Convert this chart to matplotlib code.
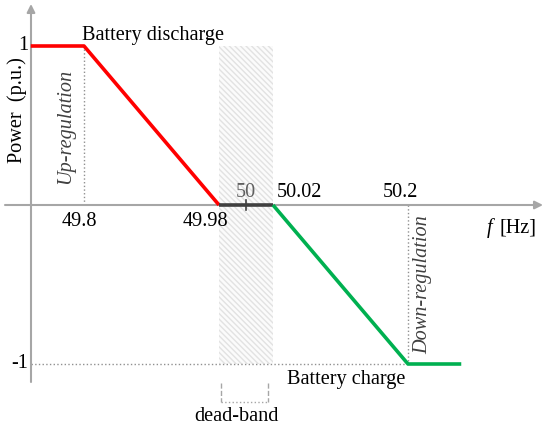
import numpy as np
import matplotlib.pyplot as plt

plt.rcParams['font.family'] = ['Liberation Serif', 'DejaVu Serif']

# droop curve (frequency in Hz, power in p.u.)
f_discharge = [49.729, 49.8, 49.98]
p_discharge = [1, 1, 0]
f_dead = [49.98, 50.02]
p_dead = [0, 0]
f_charge = [50.02, 50.2, 50.271]
p_charge = [0, -1, -1]

x_ticks = [49.8, 49.98, 50.02, 50.2]
x_labels = ['49.8', '49.98', '50.02', '50.2']
dead_band = (49.98, 50.02)
f_nominal = 50

# schematic axis: dead-band is stretched compared to the droop parts
knots_f = np.array([49.0, 49.8, 49.98, 50.02, 50.2, 51.0])
knots_x = np.array([84 - 0.8 / 0.18 * 135, 84, 219, 273, 408, 408 + 0.8 / 0.18 * 135])


def fwd(f):
    return np.interp(f, knots_f, knots_x)


def inv(x):
    return np.interp(x, knots_x, knots_f)


def py(pix):
    # pixel row -> power value
    return (205 - pix) / 159


fig = plt.figure(figsize=(5.5, 4.29), dpi=100)
ax = fig.add_axes([0, 0, 1, 1])
ax.set_xscale('function', functions=(fwd, inv))
ax.set_xlim(inv(0), inv(550))
ax.set_ylim(py(429), py(0))
ax.axis('off')

gray = '#a6a6a6'
# axes arrows
ax.annotate('', xy=(inv(543), 0), xytext=(inv(5), 0),
            arrowprops=dict(arrowstyle='-|>', color=gray, lw=1.5, mutation_scale=12,
                            shrinkA=0, shrinkB=0))
ax.annotate('', xy=(inv(31), py(4)), xytext=(inv(31), py(382)),
            arrowprops=dict(arrowstyle='-|>', color=gray, lw=1.5, mutation_scale=12,
                            shrinkA=0, shrinkB=0))

# dead-band shading
plt.rcParams['hatch.linewidth'] = 1.0
ax.fill_between(dead_band, -1, 1, facecolor='#fbfbfb', edgecolor='#e2e2e2',
                hatch='\\\\\\\\\\\\', linewidth=0, zorder=0)

# guide lines
ax.plot([49.8, 49.8], [0, 1], ls=':', color='#909090', lw=1)
ax.plot([50.2, 50.2], [0, -1], ls=':', color='#909090', lw=1)
ax.plot([inv(31), 50.2], [-1, -1], ls=':', color='#909090', lw=1)

# curve
ax.plot(f_discharge, p_discharge, color='#ff0000', lw=2.6, solid_capstyle='butt', zorder=3)
ax.plot(f_dead, p_dead, color='#404040', lw=2.6, solid_capstyle='butt', zorder=3)
ax.plot(f_charge, p_charge, color='#00b050', lw=2.6, solid_capstyle='butt', zorder=3)
ax.plot([f_nominal, f_nominal], [py(210), py(200)], color='#404040', lw=1.2, zorder=4)

# tick labels
fs = 14.6
ax.text(inv(79), py(212), x_labels[0], ha='center', va='top', fontsize=fs)
ax.text(inv(228), py(212), x_labels[1], ha='right', va='top', fontsize=fs)
ax.text(inv(277), py(197), x_labels[2], ha='left', va='baseline', fontsize=fs)
ax.text(inv(400), py(197), x_labels[3], ha='center', va='baseline', fontsize=fs)
ax.text(inv(246), py(197), '50', ha='center', va='baseline', fontsize=fs, color='#606060')
ax.text(inv(28), 1, '1', ha='right', va='center', fontsize=fs)
ax.text(inv(28), -1, '-1', ha='right', va='center', fontsize=fs)

ax.text(inv(17), py(110), 'Power  (p.u.)', rotation=90, ha='center', va='center', fontsize=fs)
ax.text(inv(487), py(233), 'f', ha='left', va='baseline', fontsize=fs, style='italic')
ax.text(inv(499), py(233), '[Hz]', ha='left', va='baseline', fontsize=fs)

ax.text(inv(82), py(40), 'Battery discharge', ha='left', va='baseline', fontsize=fs)
ax.text(inv(287), py(384), 'Battery charge', ha='left', va='baseline', fontsize=fs)
ax.text(inv(66), py(126), 'Up-regulation', rotation=90, ha='center', va='center',
        fontsize=fs, style='italic', color='#404040')
ax.text(inv(423), py(285), 'Down-regulation', rotation=90, ha='center', va='center',
        fontsize=fs, style='italic', color='#404040')

# dead-band bracket
ax.plot([inv(221), inv(221)], [py(383), py(402)], ls='--', color=gray, lw=1)
ax.plot([inv(268), inv(268)], [py(383), py(402)], ls='--', color=gray, lw=1)
ax.plot([inv(221), inv(268)], [py(402), py(402)], ls=':', color=gray, lw=1)
ax.text(inv(236), py(421), 'dead-band', ha='center', va='baseline', fontsize=fs)

fig.savefig('out.png', dpi=100)
